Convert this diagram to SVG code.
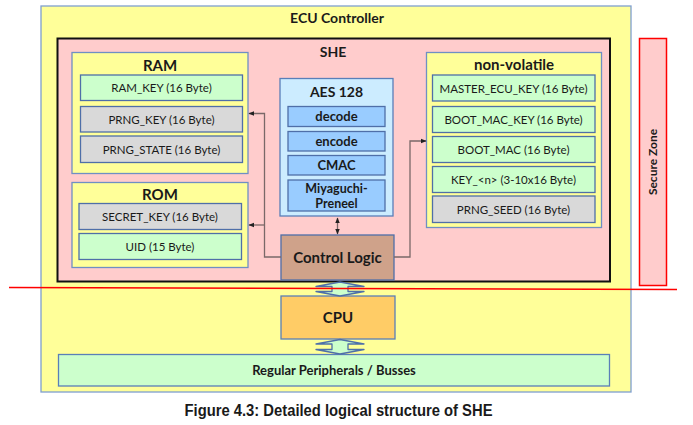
<svg xmlns="http://www.w3.org/2000/svg" width="693" height="425" viewBox="0 0 693 425">
<defs>
<style>
.t{font-family:Lato,"Open Sans","Liberation Sans",sans-serif;text-anchor:middle;fill:#1a1a1a}
.b{font-weight:bold}
.item{font-size:11.5px}
.ttl{font-size:15px;font-weight:bold}
.cont{fill:#ffff99;stroke:#6f8fc4;stroke-width:1.3}
.green{fill:#ccffcc;stroke:#4f6fa8;stroke-width:1.3}
.gray{fill:#d9d9d9;stroke:#4f6fa8;stroke-width:1.3}
.aesin{fill:#99ccff;stroke:#4f6fa8;stroke-width:1.3}
.conn{fill:none;stroke:#7a6868;stroke-width:1.3}
.blk{fill:#ccffcc;stroke:#4f6fa8;stroke-width:1.3;stroke-linejoin:round}
</style>
<marker id="ah" viewBox="0 0 10 10" refX="9" refY="5" markerWidth="6" markerHeight="6" orient="auto-start-reverse" markerUnits="userSpaceOnUse">
<path d="M0,1 L10,5 L0,9 Z" fill="#222"/>
</marker>
</defs>

<g id="ecu">
<rect x="41" y="6" width="590" height="386" fill="#ffff99" stroke="#7f9fcf" stroke-width="1.3"/>
<text class="t b" x="337" y="23" font-size="14">ECU Controller</text>
</g>

<g id="she">
<rect x="57.5" y="38.5" width="552.5" height="243" fill="#ffcccc" stroke="#111" stroke-width="2"/>
<text class="t b" x="333" y="56.5" font-size="14">SHE</text>
</g>

<g id="ram">
<rect class="cont" x="72" y="52.5" width="176" height="121"/>
<text class="t ttl" x="160" y="71">RAM</text>
<rect class="green" x="80.5" y="75" width="162" height="25.5"/>
<text class="t item" x="161.5" y="92">RAM_KEY (16 Byte)</text>
<rect class="gray" x="80.5" y="106.5" width="162" height="25.5"/>
<text class="t item" x="161.5" y="123.5">PRNG_KEY (16 Byte)</text>
<rect class="gray" x="80.5" y="136" width="162" height="26.5"/>
<text class="t item" x="161.5" y="153.5">PRNG_STATE (16 Byte)</text>
</g>

<g id="rom">
<rect class="cont" x="72" y="182.5" width="176" height="85"/>
<text class="t ttl" x="160" y="200">ROM</text>
<rect class="gray" x="79" y="203.5" width="162.5" height="26"/>
<text class="t item" x="160" y="221">SECRET_KEY (16 Byte)</text>
<rect class="green" x="79" y="233.5" width="162.5" height="26"/>
<text class="t item" x="160" y="251">UID (15 Byte)</text>
</g>

<g id="aes">
<rect x="280" y="78.5" width="113" height="137.5" fill="#ccecff" stroke="#5a7fb8" stroke-width="1.3"/>
<text class="t b" x="336.5" y="96.5" font-size="14">AES 128</text>
<rect class="aesin" x="288" y="106.5" width="97" height="20"/>
<text class="t b" x="336.5" y="121" font-size="13">decode</text>
<rect class="aesin" x="288" y="131.5" width="97" height="19.5"/>
<text class="t b" x="336.5" y="146" font-size="13">encode</text>
<rect class="aesin" x="288" y="155.5" width="97" height="19.5"/>
<text class="t b" x="336.5" y="170" font-size="13">CMAC</text>
<rect class="aesin" x="288" y="180" width="97" height="31"/>
<text class="t b" x="336.5" y="193" font-size="12.5">Miyaguchi-</text>
<text class="t b" x="336.5" y="207.5" font-size="12.5">Preneel</text>
</g>

<g id="control-logic">
<rect x="281" y="235" width="113" height="45" fill="#cfa28a" stroke="#4f6fa8" stroke-width="1.3"/>
<text class="t b" x="337.5" y="262.5" font-size="15">Control Logic</text>
</g>

<g id="non-volatile">
<rect class="cont" x="426.5" y="52.5" width="175" height="175"/>
<text class="t ttl" x="514" y="70">non-volatile</text>
<rect class="green" x="432.5" y="75" width="162.5" height="26"/>
<text class="t item" x="513.5" y="92.5">MASTER_ECU_KEY (16 Byte)</text>
<rect class="green" x="432.5" y="106.5" width="162.5" height="26"/>
<text class="t item" x="513.5" y="124">BOOT_MAC_KEY (16 Byte)</text>
<rect class="green" x="432.5" y="136.5" width="162.5" height="26"/>
<text class="t item" x="513.5" y="154">BOOT_MAC (16 Byte)</text>
<rect class="green" x="432.5" y="166.5" width="162.5" height="26"/>
<text class="t item" x="513.5" y="184">KEY_&lt;n&gt; (3-10x16 Byte)</text>
<rect class="gray" x="432.5" y="196" width="162.5" height="26.5"/>
<text class="t item" x="513.5" y="213.5">PRNG_SEED (16 Byte)</text>
</g>

<g id="secure-zone">
<rect x="639.5" y="38.5" width="27" height="247" fill="#ffcccc" stroke="#ff0000" stroke-width="1.5"/>
<text class="t b" font-size="12" transform="translate(657,162) rotate(-90)">Secure Zone</text>
</g>

<g id="cpu">
<rect x="281" y="296" width="114" height="43" fill="#ffcc66" stroke="#5a7fb8" stroke-width="1.3"/>
<text class="t b" x="338" y="323" font-size="15">CPU</text>
</g>

<g id="peripherals">
<rect x="58.5" y="354.5" width="551" height="31.5" fill="#ccffcc" stroke="#5a7fb8" stroke-width="1.3"/>
<text class="t b" x="334" y="375" font-size="13">Regular Peripherals / Busses</text>
</g>

<g id="connectors">
<polyline class="conn" points="281,257 264.5,257 264.5,113.5 249,113.5" marker-end="url(#ah)"/>
<line class="conn" x1="264.5" y1="225" x2="249" y2="225" marker-end="url(#ah)"/>
<polyline class="conn" points="394,257 410,257 410,141 426,141" marker-end="url(#ah)"/>
<line class="conn" x1="337.5" y1="218" x2="337.5" y2="234" marker-start="url(#ah)" marker-end="url(#ah)"/>
<path class="blk" d="M340,282 L364,286.5 L348,286.5 L348,291.5 L364,291.5 L340,296 L316,291.5 L332,291.5 L332,286.5 L316,286.5 Z"/>
<path class="blk" d="M340,339.5 L364,344 L348,344 L348,349.5 L364,349.5 L340,354 L316,349.5 L332,349.5 L332,344 L316,344 Z"/>
</g>

<line x1="9" y1="287.5" x2="677" y2="289.5" stroke="#ff0000" stroke-width="1.5"/>

<text x="338.5" y="416" font-family="'Liberation Sans',Arial,sans-serif" font-weight="bold" font-size="16" text-anchor="middle" fill="#1a1a1a" textLength="308" lengthAdjust="spacingAndGlyphs">Figure 4.3: Detailed logical structure of SHE</text>
</svg>
